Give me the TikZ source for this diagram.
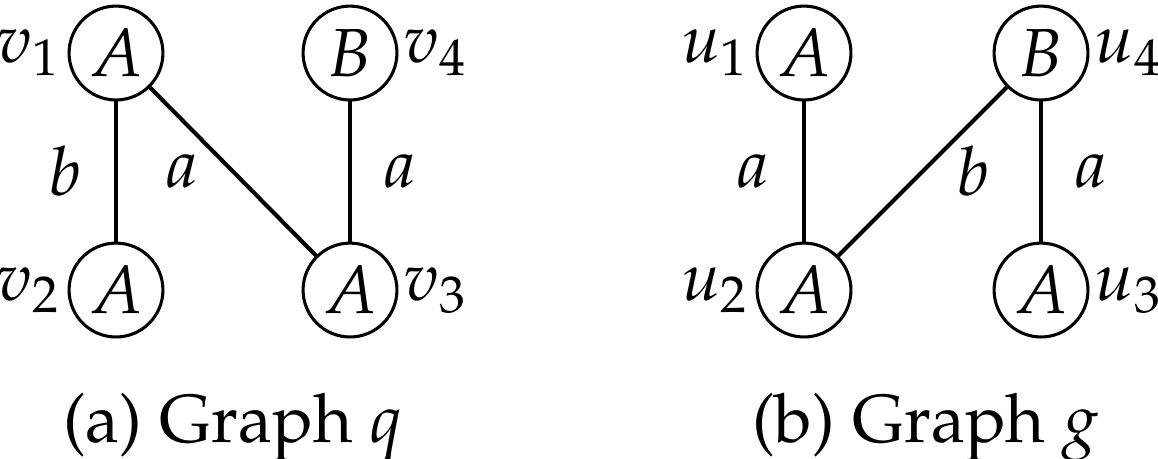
\documentclass[tikz,border=0pt]{standalone}
\usepackage[T1]{fontenc}
\usepackage{mathpazo}
\tikzset{%
  vertex/.style = {shape=circle, draw, line width=0.45pt,%
                   minimum size=13.8pt, inner sep=0pt},%
  edge/.style   = {line width=0.6pt},%
  elabel/.style = {inner sep=4.7pt},%
  nlabel/.style = {inner sep=0.6pt}%
}

\begin{document}
\begin{tikzpicture}[x=0.147pt,y=-0.147pt,
	every label/.style = {nlabel},
	caption/.style = {anchor=base}]
	\useasboundingbox (0,0) rectangle (1158,458);
	% graph q
	\node [vertex,label=left:$v_1$]  (v1) at (116,53)  {$A$};
	\node [vertex,label=left:$v_2$]  (v2) at (116,290) {$A$};
	\node [vertex,label=right:$v_3$] (v3) at (350,290) {$A$};
	\node [vertex,label=right:$v_4$] (v4) at (350,53)  {$B$};
	\draw [edge] (v1) -- node [elabel,left] {$b$} (v2);
	\draw [edge] (v1) -- node [elabel,left] {$a$} (v3);
	\draw [edge] (v4) -- node [elabel,right] {$a$} (v3);
	\node [caption] (capq) at (233,442) {(a)\ Graph $q$};
	% graph g
	\node [vertex,label=left:$u_1$]  (u1) at (804,53)  {$A$};
	\node [vertex,label=left:$u_2$]  (u2) at (804,290) {$A$};
	\node [vertex,label=right:$u_3$] (u3) at (1041,290) {$A$};
	\node [vertex,label=right:$u_4$] (u4) at (1041,53) {$B$};
	\draw [edge] (u1) -- node [elabel,left] {$a$} (u2);
	\draw [edge] (u2) -- node [elabel,right] {$b$} (u4);
	\draw [edge] (u4) -- node [elabel,right] {$a$} (u3);
	\node [caption] (capg) at (926,442) {(b)\ Graph $g$};
\end{tikzpicture}
\end{document}
